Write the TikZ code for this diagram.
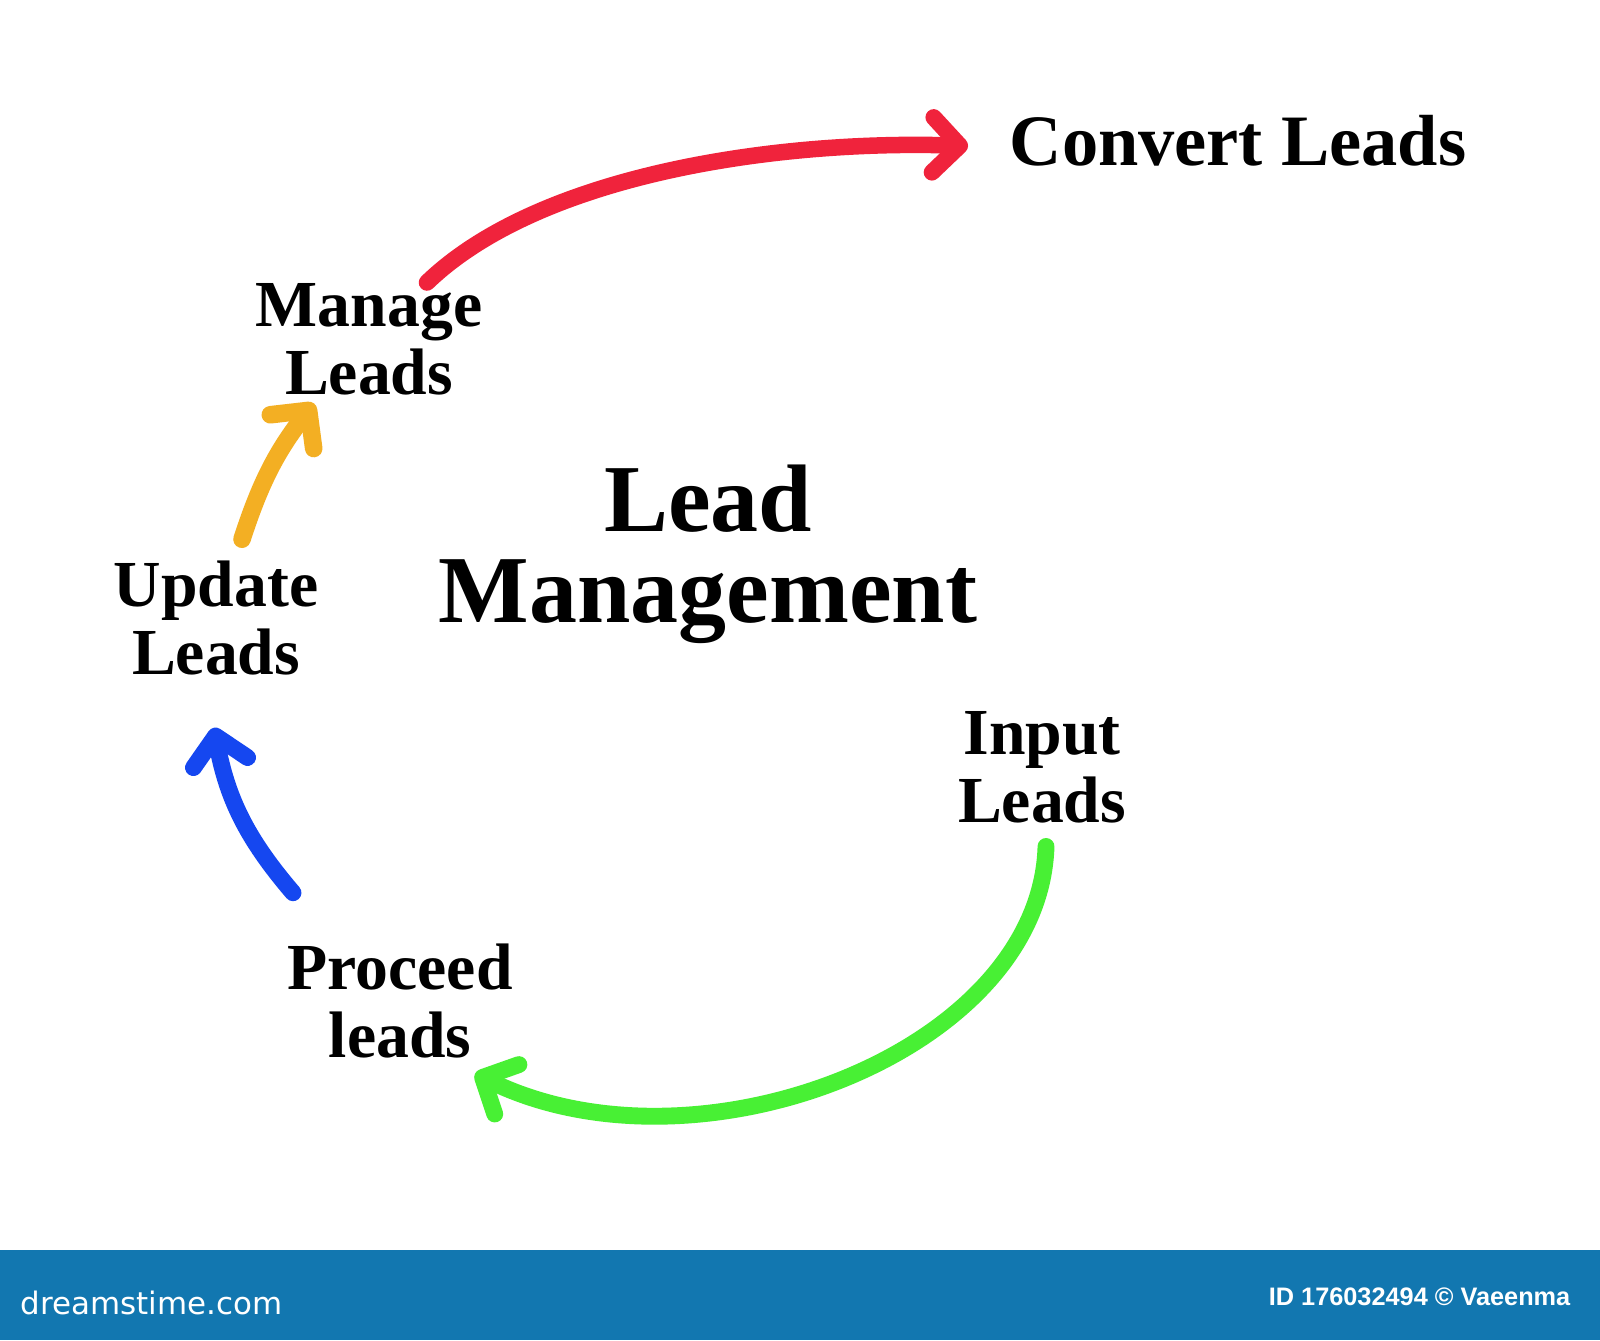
\documentclass[tikz,border=0pt]{standalone}
\usepackage{fontspec}
\setmainfont{Liberation Serif}
\newfontfamily\barfont{Liberation Sans}
\newfontfamily\logofont{DejaVu Sans}
\usetikzlibrary{arrows.meta}

\definecolor{redpen}{HTML}{F0233C}
\definecolor{orangepen}{HTML}{F3AF23}
\definecolor{bluepen}{HTML}{1547F0}
\definecolor{greenpen}{HTML}{48F034}
\definecolor{barblue}{HTML}{1277B0}

\begin{document}
\begin{tikzpicture}[
    lbl/.style={inner sep=0pt, align=center, font=\bfseries\fontsize{18.7}{19.3}\selectfont},
    pen/.style={line width=#1, line cap=round, -{Straight Barb[round, length=2.7mm, width=5.5mm]}}
  ]
  \useasboundingbox (0, 0) rectangle (16, 13.4);
  \fill[white] (0, 0) rectangle (16, 13.4);
  \fill[barblue] (0, 0) rectangle (16, 0.9);

  \node[inner sep=0pt, align=center, font=\bfseries\fontsize{27.3}{25.8}\selectfont] (title) at (7.08, 7.86) {Lead\\Management};
  \node[inner sep=0pt, font=\bfseries\fontsize{20.6}{21}\selectfont] (convert) at (12.38, 11.99) {Convert Leads};
  \node[lbl] (manage) at (3.69, 10.01) {Manage\\Leads};
  \node[lbl] (update) at (2.16, 7.22) {Update\\Leads};
  \node[lbl] (input) at (10.42, 5.73) {Input\\Leads};
  \node[lbl] (proceed) at (4.00, 3.39) {Proceed\\leads};

  \draw[pen=4.7pt, redpen] ([xshift=5.8mm]manage.north) .. controls +(1.13, 1.09) and +(-1.89, 0.06) .. ([xshift=-4.1mm, yshift=-0.5mm]convert.west);
  \draw[pen=5pt, orangepen] ([xshift=2.6mm, yshift=2.1mm]update.north) to[bend left=10] ([xshift=-5.5mm, yshift=-0.8mm]manage.south);
  \draw[pen=4.8pt, bluepen] ([xshift=-10.7mm, yshift=5.05mm]proceed.north) to[bend left=15] ([xshift=-0.2mm, yshift=-5.2mm]update.south);
  \draw[pen=4.8pt, greenpen] ([xshift=0.4mm, yshift=-2.3mm]input.south) .. controls +(-0.06, -2.05) and +(2.23, -1.09) .. ([xshift=7.5mm, yshift=-1.5mm]proceed.south);

  \node[anchor=base west, inner sep=0pt, text=white, font=\logofont\fontsize{8.8}{10}\selectfont] (brand) at (0.20, 0.26) {dreamstime.com};
  \node[anchor=base east, inner sep=0pt, text=white, font=\barfont\bfseries\fontsize{7.2}{9}\selectfont] (imgid) at (15.71, 0.34) {ID 176032494 © Vaeenma};
\end{tikzpicture}
\end{document}
